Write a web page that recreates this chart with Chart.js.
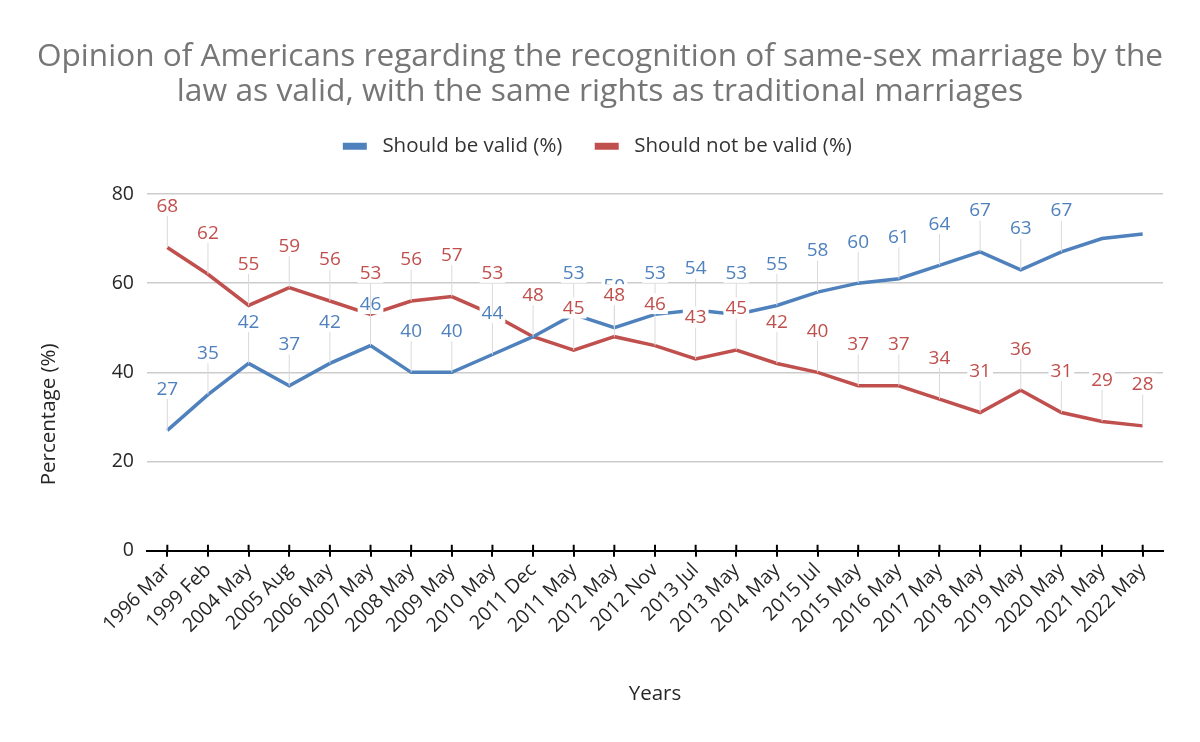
<!DOCTYPE html>
<html>
<head>
<meta charset="utf-8">
<script src="https://cdn.jsdelivr.net/npm/chart.js@4.4.1/dist/chart.umd.min.js"></script>
<style>
  html, body { margin: 0; padding: 0; background: #ffffff; }
  #wrap { width: 1200px; height: 742px; position: relative; }
</style>
</head>
<body>
<div id="wrap"><canvas id="c" width="1200" height="742"></canvas></div>
<script>
const categories = ['1996 Mar','1999 Feb','2004 May','2005 Aug','2006 May','2007 May','2008 May','2009 May','2010 May','2011 Dec','2011 May','2012 May','2012 Nov','2013 Jul','2013 May','2014 May','2015 Jul','2015 May','2016 May','2017 May','2018 May','2019 May','2020 May','2021 May','2022 May'];
const validValues    = [27, 35, 42, 37, 42, 46, 40, 40, 44, 48, 53, 50, 53, 54, 53, 55, 58, 60, 61, 64, 67, 63, 67, 70, 71];
const notValidValues = [68, 62, 55, 59, 56, 53, 56, 57, 53, 48, 45, 48, 46, 43, 45, 42, 40, 37, 37, 34, 31, 36, 31, 29, 28];
const validUnlabeled    = ['2011 Dec', '2021 May', '2022 May'];
const notValidUnlabeled = [];
const yTickValues = [0, 20, 40, 60, 80];

const titleLines = ['Opinion of Americans regarding the recognition of same-sex marriage by the', 'law as valid, with the same rights as traditional marriages'];
const FONT = "'Open Sans', 'Noto Sans', sans-serif";
const BLUE = '#4F81BD';
const RED = '#C0504D';
const TEXT = '#262626';

const valueLabelPlugin = {
  id: 'valueLabels',
  afterDatasetsDraw(chart) {
    const ctx = chart.ctx;
    chart.data.datasets.forEach((ds, di) => {
      const meta = chart.getDatasetMeta(di);
      const skip = ds.unlabeled || [];
      ctx.save();
      ctx.font = '19px ' + FONT;
      ctx.textAlign = 'center';
      ctx.textBaseline = 'middle';
      meta.data.forEach((pt, i) => {
        if (skip.includes(chart.data.labels[i])) return;
        const txt = String(ds.data[i]);
        const lx = pt.x, ly = pt.y - 42;
        const w = ctx.measureText(txt).width + 4;
        const h = 21;
        ctx.strokeStyle = '#dadada';
        ctx.lineWidth = 1;
        ctx.beginPath();
        ctx.moveTo(lx, ly + h / 2);
        ctx.lineTo(lx, pt.y);
        ctx.stroke();
        ctx.fillStyle = '#ffffff';
        ctx.fillRect(lx - w / 2, ly - h / 2, w, h);
        ctx.fillStyle = ds.borderColor;
        ctx.fillText(txt, lx, ly + 1);
      });
      ctx.restore();
    });
  }
};

const axisExtrasPlugin = {
  id: 'axisExtras',
  afterDraw(chart) {
    const ctx = chart.ctx;
    const a = chart.chartArea;
    const xs = chart.scales.x;
    ctx.save();
    ctx.strokeStyle = '#000000';
    ctx.lineWidth = 2;
    xs.ticks.forEach((t, i) => {
      const px = xs.getPixelForTick(i);
      ctx.beginPath();
      ctx.moveTo(px, a.bottom - 6);
      ctx.lineTo(px, a.bottom);
      ctx.stroke();
    });
    ctx.font = '20.5px ' + FONT;
    ctx.fillStyle = TEXT;
    ctx.textAlign = 'center';
    ctx.textBaseline = 'middle';
    ctx.translate(a.left - 98, (a.top + a.bottom) / 2 + 42);
    ctx.rotate(-Math.PI / 2);
    ctx.fillText('Percentage (%)', 0, 0);
    ctx.restore();
  }
};

new Chart(document.getElementById('c'), {
  type: 'line',
  data: {
    labels: categories,
    datasets: [
      { label: 'Should be valid (%)', data: validValues, borderColor: BLUE, backgroundColor: BLUE, borderWidth: 3.5, pointRadius: 0, tension: 0, unlabeled: validUnlabeled },
      { label: 'Should not be valid (%)', data: notValidValues, borderColor: RED, backgroundColor: RED, borderWidth: 3.5, pointRadius: 0, tension: 0, unlabeled: notValidUnlabeled }
    ]
  },
  options: {
    responsive: false,
    animation: false,
    devicePixelRatio: 1,
    layout: { padding: { left: 37, right: 37, top: 20, bottom: 36 } },
    plugins: {
      title: {
        display: true,
        text: titleLines,
        color: '#767676',
        font: { family: FONT, size: 31.8, weight: 'normal', lineHeight: 1.1 },
        padding: { top: 19, bottom: 0 }
      },
      subtitle: {
        display: true,
        text: ' ',
        weight: 500,
        font: { family: FONT, size: 10, lineHeight: 1 },
        padding: { top: 17.5, bottom: 0 }
      },
      legend: {
        display: true,
        position: 'top',
        labels: {
          color: '#333333',
          font: { family: FONT, size: 20.5 },
          boxWidth: 24,
          boxHeight: 7,
          padding: 27,
          generateLabels(chart) {
            return Chart.defaults.plugins.legend.labels.generateLabels(chart).map(l => ({ ...l, text: ' ' + l.text + ' ', lineWidth: 0 }));
          }
        }
      },
      tooltip: { enabled: false }
    },
    scales: {
      x: {
        offset: true,
        grid: { display: true, drawOnChartArea: false, drawTicks: true, tickLength: 6, color: '#000000', lineWidth: 2, offset: false },
        border: { display: true, color: '#000000', width: 2 },
        ticks: { color: TEXT, font: { family: FONT, size: 19.5 }, maxRotation: 45, minRotation: 45, autoSkip: false, padding: 2 },
        title: { display: true, text: 'Years', color: TEXT, font: { family: FONT, size: 20.5 }, padding: { top: 42, bottom: 0 } }
      },
      y: {
        min: 0, max: 80,
        afterBuildTicks(scale) { scale.ticks = yTickValues.map(v => ({ value: v })); },
        afterFit(scale) { scale.width = 110; },
        grid: { color: '#cccccc', lineWidth: 1.5, drawTicks: false },
        border: { display: false },
        ticks: { color: TEXT, font: { family: FONT, size: 19.5 }, padding: 13 }
      }
    }
  },
  plugins: [valueLabelPlugin, axisExtrasPlugin]
});
</script>
</body>
</html>
